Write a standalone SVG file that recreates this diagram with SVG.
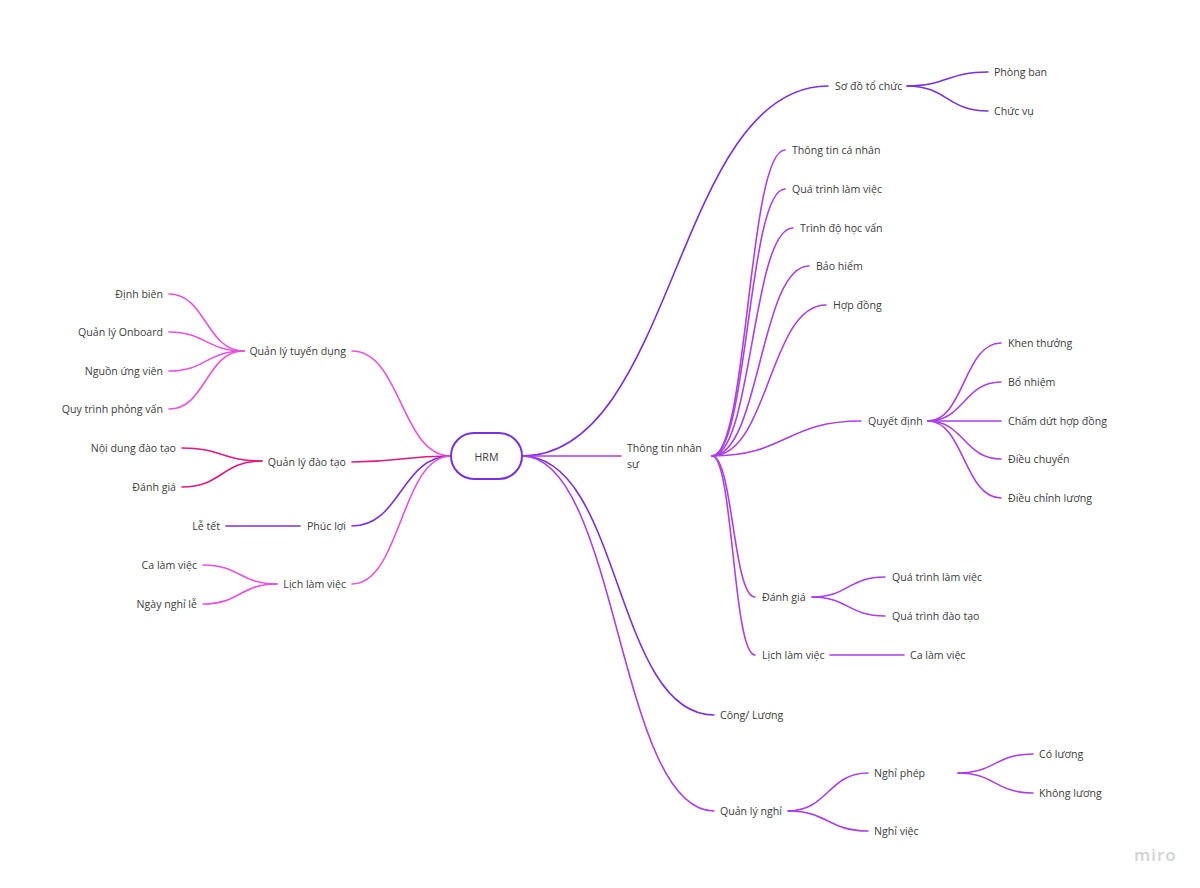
<svg xmlns="http://www.w3.org/2000/svg" width="1200" height="888" viewBox="0 0 1200 888">
<style>
text{font-family:"Open Sans","Noto Sans","Liberation Sans",sans-serif;font-size:10.6px;fill:#3c3c3c}
.e{text-anchor:end}
path,line{fill:none;stroke-width:1.6;stroke-linecap:round}
.p{stroke:#7a30e2}
.v{stroke:#ab3fe9}
.k{stroke:#ea52da}
.r{stroke:#e0197c}
.logo{font-family:"Open Sans","Liberation Sans",sans-serif;font-size:17px;font-weight:600;fill:#d2d2d8;letter-spacing:1px}
</style>
<rect width="1200" height="888" fill="#ffffff"/>
<g id="connectors">
<path class="k" d="M451,456 C401,456 401,351 352,351"/>
<path class="r" d="M451,456 C401,456 401,462 352,462"/>
<path class="p" d="M451,456 C401,456 401,526 352,526"/>
<path class="k" d="M451,456 C401,456 401,584 352,584"/>
<path class="k" d="M244,351 C206,351 206,294 169,294"/>
<path class="k" d="M244,351 C206,351 206,332 169,332"/>
<path class="k" d="M244,351 C206,351 206,371 169,371"/>
<path class="k" d="M244,351 C206,351 206,409 169,409"/>
<path class="r" d="M262,461 C222,461 222,448 182,448"/>
<path class="r" d="M262,461 C222,461 222,487 182,487"/>
<path class="p" d="M226,526 L300,526"/>
<path class="k" d="M277,584 C240,584 240,565 203,565"/>
<path class="k" d="M277,584 C240,584 240,604 203,604"/>
<path class="p" d="M522,456 C675,456 675,86 828,86"/>
<path class="v" d="M522,456 L621,456"/>
<path class="p" d="M522,456 C622,456 614,715 714,715"/>
<path class="v" d="M522,456 C618,456 618,811 714,811"/>
<path class="p" d="M907,86 C947,86 947,72 988,72"/>
<path class="p" d="M907,86 C947,86 947,111 988,111"/>
<path class="v" d="M712,456 C748,456 748,150 785,150"/>
<path class="v" d="M712,456 C748,456 748,189 785,189"/>
<path class="v" d="M712,456 C752,456 752,228 793,228"/>
<path class="v" d="M712,456 C760,456 760,266 809,266"/>
<path class="v" d="M712,456 C769,456 769,305 826,305"/>
<path class="v" d="M712,456 C786,456 786,421 861,421"/>
<path class="v" d="M712,456 C733,456 733,597 755,597"/>
<path class="v" d="M712,456 C733,456 733,655 755,655"/>
<path class="v" d="M928,421 C964,421 964,343 1001,343"/>
<path class="v" d="M928,421 C964,421 964,382 1001,382"/>
<path class="v" d="M928,421 L1001,421"/>
<path class="v" d="M928,421 C964,421 964,459 1001,459"/>
<path class="v" d="M928,421 C964,421 964,498 1001,498"/>
<path class="v" d="M812,597 C848,597 848,577 885,577"/>
<path class="v" d="M812,597 C848,597 848,616 885,616"/>
<path class="v" d="M830,655 L904,655"/>
<path class="v" d="M788,811 C828,811 828,773 868,773"/>
<path class="v" d="M788,811 C828,811 828,831 868,831"/>
<path class="v" d="M958,773 C995,773 995,754 1033,754"/>
<path class="v" d="M958,773 C995,773 995,793 1033,793"/>
</g>
<g id="hrm"><rect x="451" y="433" width="71" height="46" rx="23" fill="#ffffff" stroke="#7a30e2" stroke-width="2"/><text x="486.5" y="461" text-anchor="middle">HRM</text></g>
<g id="n-tuyendung"><text class="e" x="346" y="355">Quản lý tuyến dụng</text></g>
<g id="n-dinhbien"><text class="e" x="163" y="298">Định biên</text></g>
<g id="n-onboard"><text class="e" x="163" y="336">Quản lý Onboard</text></g>
<g id="n-nguon"><text class="e" x="163" y="375">Nguồn ứng viên</text></g>
<g id="n-quytrinh"><text class="e" x="163" y="413">Quy trình phỏng vấn</text></g>
<g id="n-daotao"><text class="e" x="346" y="466">Quản lý đào tạo</text></g>
<g id="n-noidung"><text class="e" x="176" y="452">Nội dung đào tạo</text></g>
<g id="n-danhgia-l"><text class="e" x="176" y="491">Đánh giá</text></g>
<g id="n-phucloi"><text class="e" x="346" y="530">Phúc lợi</text></g>
<g id="n-letet"><text class="e" x="220" y="530">Lễ tết</text></g>
<g id="n-lich-l"><text class="e" x="346" y="588">Lịch làm việc</text></g>
<g id="n-ca-l"><text class="e" x="197" y="569">Ca làm việc</text></g>
<g id="n-ngaynghi"><text class="e" x="197" y="608">Ngày nghỉ lễ</text></g>
<g id="n-sodo"><text x="835" y="90">Sơ đồ tổ chức</text></g>
<g id="n-phongban"><text x="994" y="76">Phòng ban</text></g>
<g id="n-chucvu"><text x="994" y="115">Chức vụ</text></g>
<g id="n-ttns"><text x="627" y="452">Thông tin nhân</text><text x="627" y="468">sự</text></g>
<g id="n-canhan"><text x="792" y="154">Thông tin cá nhân</text></g>
<g id="n-qtlv1"><text x="792" y="193">Quá trình làm việc</text></g>
<g id="n-trinhdo"><text x="800" y="232">Trình độ học vấn</text></g>
<g id="n-baohiem"><text x="816" y="270">Bảo hiểm</text></g>
<g id="n-hopdong"><text x="833" y="309">Hợp đồng</text></g>
<g id="n-quyetdinh"><text x="868" y="425">Quyết định</text></g>
<g id="n-khenthuong"><text x="1008" y="347">Khen thưởng</text></g>
<g id="n-bonhiem"><text x="1008" y="386">Bổ nhiệm</text></g>
<g id="n-chamdut"><text x="1008" y="425">Chấm dứt hợp đồng</text></g>
<g id="n-dieuchuyen"><text x="1008" y="463">Điều chuyển</text></g>
<g id="n-dieuchinh"><text x="1008" y="502">Điều chỉnh lương</text></g>
<g id="n-danhgia-r"><text x="762" y="601">Đánh giá</text></g>
<g id="n-qtlv2"><text x="892" y="581">Quá trình làm việc</text></g>
<g id="n-qtdt"><text x="892" y="620">Quá trình đào tạo</text></g>
<g id="n-lich-r"><text x="762" y="659">Lịch làm việc</text></g>
<g id="n-ca-r"><text x="910" y="659">Ca làm việc</text></g>
<g id="n-cong"><text x="720" y="719">Công/ Lương</text></g>
<g id="n-nghi"><text x="720" y="815">Quản lý nghỉ</text></g>
<g id="n-nghiphep"><text x="874" y="777">Nghỉ phép</text></g>
<g id="n-nghiviec"><text x="874" y="835">Nghỉ việc</text></g>
<g id="n-coluong"><text x="1039" y="758">Có lương</text></g>
<g id="n-khongluong"><text x="1039" y="797">Không lương</text></g>
<text class="logo" x="1134" y="861">miro</text>
</svg>
